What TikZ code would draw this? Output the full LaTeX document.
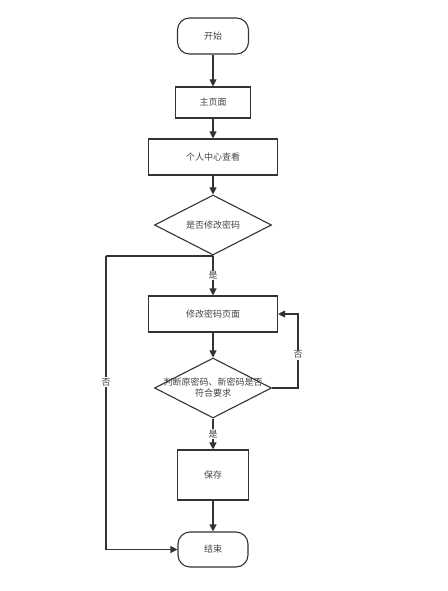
\documentclass[tikz,border=0pt]{standalone}
\usepackage{fontspec}
\setmainfont{Noto Sans CJK SC}
\usetikzlibrary{shapes.geometric,arrows.meta}
\definecolor{ln}{HTML}{333333}
\definecolor{tx}{HTML}{444444}
\tikzset{
  base/.style={draw=ln,line width=1.1pt,text=tx,font=\fontsize{9}{11}\selectfont,inner sep=0pt,align=center},
  term/.style={base,rounded corners=12pt,minimum width=71pt,minimum height=36pt},
  box/.style={base,rectangle,minimum width=#1,minimum height=34pt},
  dia/.style={base,diamond,aspect=1.95,minimum width=117pt,minimum height=60pt},
  lab/.style={fill=white,text=tx,font=\fontsize{9}{11}\selectfont,inner sep=1pt},
  arr/.style={draw=ln,line width=1.1pt,-{Triangle[length=7pt,width=7pt]}},
  ln/.style={draw=ln,line width=1.1pt}
}
\begin{document}
\begin{tikzpicture}[x=1pt,y=-1pt]
\useasboundingbox (0,0) rectangle (447,591);
\node[term] (start) at (213,36) {开始};
\node[box=75pt,minimum height=31pt] (home) at (213,102.5) {主页面};
\node[box=129pt,minimum height=36pt] (center) at (213,157) {个人中心查看};
\node[dia] (q1) at (213,225) {是否修改密码};
\node[box=129pt,minimum height=36pt] (modify) at (213,314) {修改密码页面};
\node[dia,label={[text=tx,font=\fontsize{9}{11}\selectfont,align=center,inner sep=0pt]center:判断原密码、新密码是否\\符合要求}] (q2) at (213,388) {};
\node[box=71pt,minimum height=50pt] (save) at (213,475) {保存};
\node[term,minimum width=70pt,minimum height=35pt] (end) at (213,549.5) {结束};
\coordinate (l1) at (106,256);
\coordinate (l2) at (106,549.5);
\coordinate (r1) at (298,388);
\coordinate (r2) at (298,314);
\draw[arr] (start) -- (home);
\draw[arr] (home) -- (center);
\draw[arr] (center) -- (q1);
\draw[arr] (q1.south) -- node[lab,pos=0.5]{是} (modify.north);
\draw[arr] (modify) -- (q2);
\draw[arr] (q2.south) -- node[lab,pos=0.5]{是} (save.north);
\draw[arr] (save) -- (end);
\draw[ln] (q1.south) |- (l1);
\draw[arr] (l1) -- node[lab,pos=0.43]{否} (l2) -- (end.west);
\draw[arr] (q2.east) -- (r1) -- node[lab,pos=0.45]{否} (r2) -- (modify.east);
\end{tikzpicture}
\end{document}
